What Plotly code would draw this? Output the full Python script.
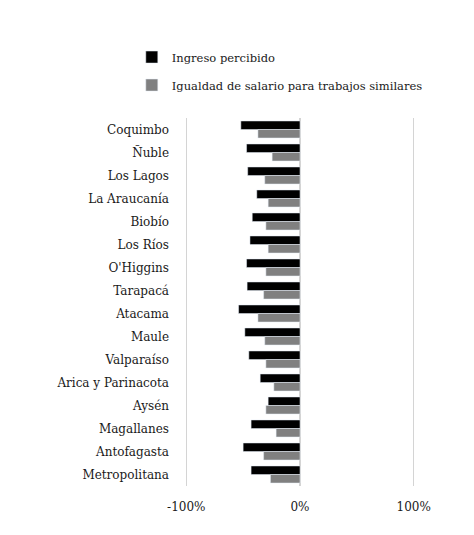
import plotly.graph_objects as go

regiones = ["Coquimbo", "Ñuble", "Los Lagos", "La Araucanía", "Biobío", "Los Ríos",
            "O'Higgins", "Tarapacá", "Atacama", "Maule", "Valparaíso",
            "Arica y Parinacota", "Aysén", "Magallanes", "Antofagasta", "Metropolitana"]

ingreso = [-0.52, -0.47, -0.46, -0.38, -0.42, -0.44, -0.47, -0.465,
           -0.54, -0.485, -0.45, -0.35, -0.28, -0.43, -0.50, -0.43]
igualdad = [-0.37, -0.245, -0.31, -0.28, -0.30, -0.28, -0.30, -0.32,
            -0.37, -0.31, -0.30, -0.23, -0.30, -0.21, -0.32, -0.26]

tick_vals = [-1, 0, 1]
tick_text = ["-100%", "0%", "100%"]

fig = go.Figure()
fig.add_trace(go.Bar(y=regiones, x=ingreso, orientation="h", legendgroup="a",
                     name="Ingreso percibido", marker_color="#000000"))
fig.add_trace(go.Bar(y=regiones, x=igualdad, orientation="h", legendgroup="b",
                     name="Igualdad de salario para trabajos similares",
                     marker_color="#808080"))

fig.update_layout(
    width=474, height=535,
    paper_bgcolor="white", plot_bgcolor="white",
    font=dict(family="DejaVu Serif", size=12, color="#1a1a1a"),
    barmode="group", bargap=0.26, bargroupgap=0,
    margin=dict(l=176, r=66, t=110, b=57, autoexpand=False),
    legend=dict(orientation="v", x=-0.225, y=1.205, xanchor="left", yanchor="top",
                font=dict(size=11.5), itemwidth=30, tracegroupgap=9,
                bgcolor="rgba(0,0,0,0)"),
    showlegend=True,
)
fig.update_xaxes(range=[-1.02, 1.02], tickvals=tick_vals, ticktext=tick_text,
                 showgrid=True, gridcolor="#d4d4d4", gridwidth=1, zeroline=True,
                 zerolinecolor="#d4d4d4", showline=False, ticks="",
                 ticklabelstandoff=12)
fig.update_yaxes(autorange="reversed", showgrid=False, ticks="",
                 ticklabelstandoff=14, showline=False)

fig.write_html("out.html")
